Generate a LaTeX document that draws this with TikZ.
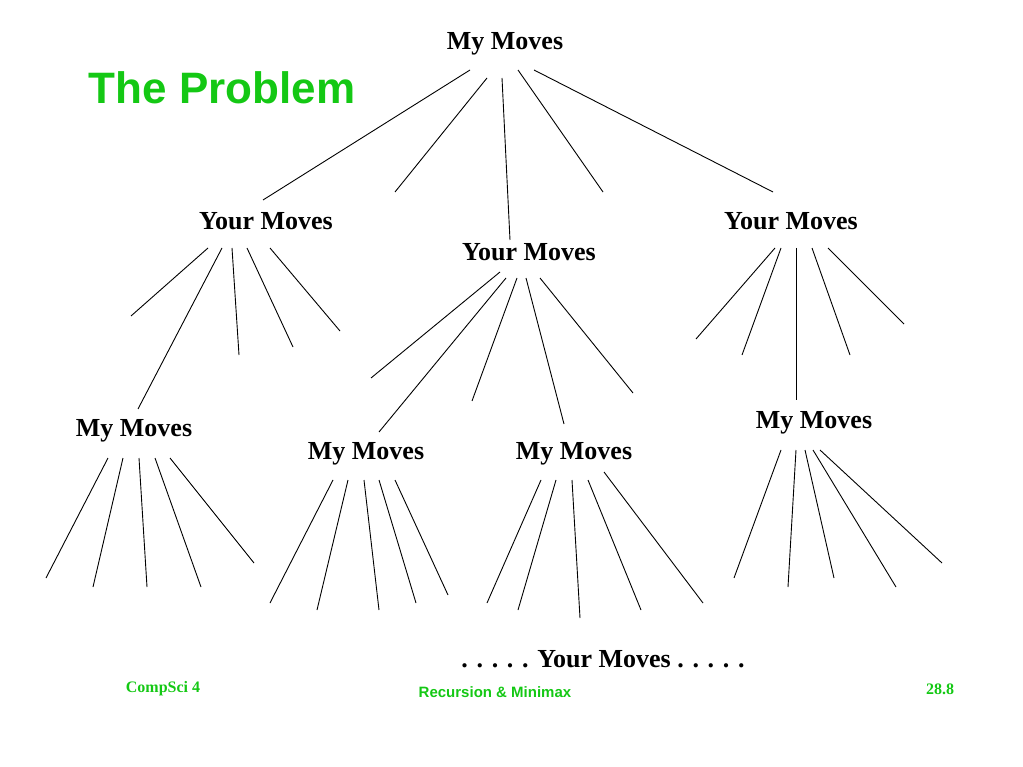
\documentclass[tikz,border=0pt]{standalone}
\usepackage{fontspec}
\setmainfont{Liberation Serif}
\newfontfamily\arialf{Liberation Sans}
\definecolor{ttl}{RGB}{20,200,20}
\begin{document}
\begin{tikzpicture}[x=1pt,y=-1pt,
  lab/.style={font=\bfseries\fontsize{26}{28}\selectfont,inner sep=0pt},
  ln/.style={line width=0.9pt}]
\useasboundingbox (0,0) rectangle (1023,767);
\node[font=\arialf\bfseries\fontsize{44}{48}\selectfont,text=ttl] (title) at (222,88) {The Problem};
\node[lab] (m0) at (505,44) {My Moves};
\node[lab] (y1) at (266,221) {Your Moves};
\node[lab] (y2) at (529,252) {Your Moves};
\node[lab] (y3) at (791,221) {Your Moves};
\node[lab] (m1) at (134,431) {My Moves};
\node[lab] (m2) at (366,454) {My Moves};
\node[lab] (m3) at (574,454) {My Moves};
\node[lab] (m4) at (814,423) {My Moves};
\node[lab] (dots) at (603,659) {. . . . . Your Moves . . . . .};
\node[font=\bfseries\fontsize{16}{18}\selectfont,text=ttl] (f1) at (163,689) {CompSci 4};
\node[font=\arialf\bfseries\fontsize{15}{16}\selectfont,text=ttl] (f2) at (495,692) {Recursion \& Minimax};
\node[font=\bfseries\fontsize{16}{18}\selectfont,text=ttl] (f3) at (940,689) {28.8};
\foreach \a/\b/\c/\d in {
470/70/263/200, 487/78/395/192, 502/78/510/240, 518/70/603/192, 534/70/773/192,
208/248/131/316, 222/248/138/409, 232/248/239/355, 247/248/293/347, 270/248/340/331,
500/272/371/378, 506/278/379/432, 517/278/472/401, 526/278/564/424, 540/278/633/393,
775/248/696/339, 781/248/742/355, 796/248/796/400, 812/248/850/355, 828/248/904/324,
108/458/46/578, 123/458/93/587, 139/458/147/587, 155/458/201/587, 170/458/254/563,
333/480/270/603, 348/480/317/610, 364/480/379/610, 379/480/416/603, 395/480/448/595,
541/480/487/603, 556/480/518/610, 572/480/580/618, 588/480/641/610, 604/472/703/603,
781/450/734/578, 796/450/788/587, 805/450/834/578, 813/450/896/587, 820/450/942/563}
  \draw[ln] (\a,\b) -- (\c,\d);
\end{tikzpicture}
\end{document}
